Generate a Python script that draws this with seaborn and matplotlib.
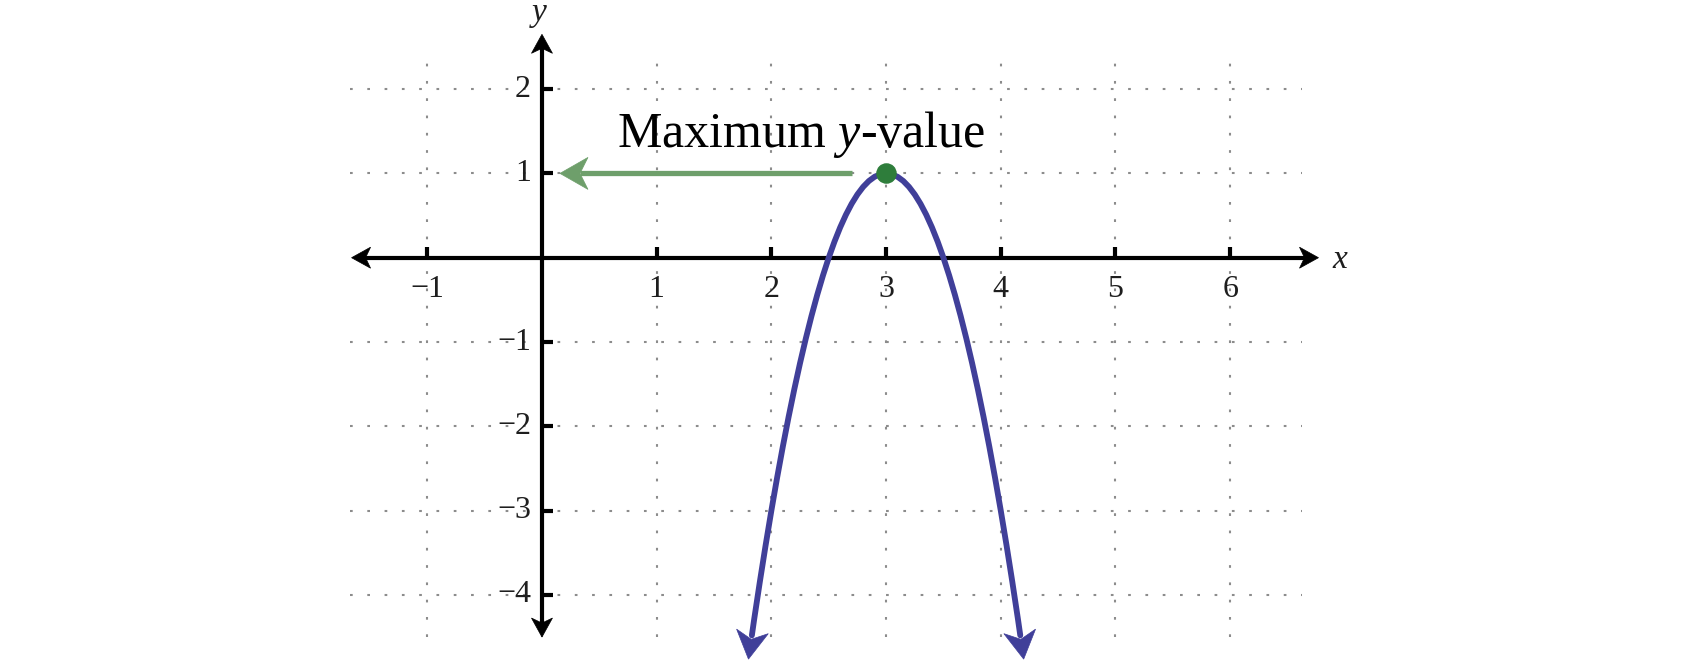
import numpy as np
import matplotlib
matplotlib.use("Agg")
import matplotlib.pyplot as plt
from matplotlib.patches import Polygon
import seaborn as sns

# ---- data ----
x_ticks = [-1, 1, 2, 3, 4, 5, 6]
x_tick_labels = ["\u22121", "1", "2", "3", "4", "5", "6"]
y_ticks = [-4, -3, -2, -1, 1, 2]
y_tick_labels = ["\u22124", "\u22123", "\u22122", "\u22121", "1", "2"]
x_grid = [-1, 0, 1, 2, 3, 4, 5, 6]
y_grid = [-4, -3, -2, -1, 1, 2]

curve_x = [1.83, 1.85, 1.90, 1.95, 2.00, 2.05, 2.10, 2.15, 2.20, 2.25, 2.30, 2.35,
           2.40, 2.45, 2.50, 2.55, 2.60, 2.65, 2.70, 2.75, 2.80, 2.85, 2.90, 2.95,
           3.00,
           3.05, 3.10, 3.15, 3.20, 3.25, 3.30, 3.35, 3.40, 3.45, 3.50, 3.55, 3.60,
           3.65, 3.70, 3.75, 3.80, 3.85, 3.90, 3.95, 4.00, 4.05, 4.10, 4.15, 4.17]
curve_y = [-4.48, -4.29, -3.84, -3.41, -3.00, -2.61, -2.24, -1.89, -1.56, -1.25, -0.96, -0.69,
           -0.44, -0.21, 0.00, 0.19, 0.36, 0.51, 0.64, 0.75, 0.84, 0.91, 0.96, 0.99,
           1.00,
           0.99, 0.96, 0.91, 0.84, 0.75, 0.64, 0.51, 0.36, 0.19, 0.00, -0.21, -0.44,
           -0.69, -0.96, -1.25, -1.56, -1.89, -2.24, -2.61, -3.00, -3.41, -3.84, -4.29, -4.48]
vertex_x = [3.0]
vertex_y = [1.0]
label_text = "Maximum $y$-value"
green_arrow_start = (2.70, 1.0)
green_arrow_tip = (0.157, 1.0)

# ---- style ----
sns.set_theme(style="white")
plt.rcParams["font.family"] = "serif"
plt.rcParams["font.serif"] = ["Liberation Serif", "DejaVu Serif"]
plt.rcParams["mathtext.fontset"] = "custom"
plt.rcParams["mathtext.rm"] = "Liberation Serif"
plt.rcParams["mathtext.it"] = "Liberation Serif:italic"

BLUE = "#403F99"
GREEN_ARROW = "#6E9F6B"
GREEN_DOT = "#2E7D3B"
GRID = "#8C8C8C"
TEXT = "#1E1E1E"

fig = plt.figure(figsize=(17, 6.62), dpi=100)
ax = fig.add_axes([0, 0, 1, 1])
ax.set_xlim(-4.725, 10.096)
ax.set_ylim(-4.796, 3.057)
ax.axis("off")
fig.patch.set_facecolor("white")

# grid
dot_style = (0, (1.3, 7.0))
for gx in x_grid:
    ax.plot([gx, gx], [-4.5, 2.46], color=GRID, lw=1.5, ls=dot_style, zorder=1)
for gy in y_grid:
    ax.plot([-1.67, 6.63], [gy, gy], color=GRID, lw=1.5, ls=dot_style, zorder=1)


def arrow_head(tip, prev, L, W, notch, color, z):
    """Stealth-style arrowhead, sizes in pixels, placed at data point tip."""
    t = ax.transData.transform(tip)
    p = ax.transData.transform(prev)
    d = (t - p) / np.linalg.norm(t - p)
    n = np.array([-d[1], d[0]])
    verts = [t,
             t - L * d + W / 2 * n,
             t - (L - notch) * d,
             t - L * d - W / 2 * n]
    verts = ax.transData.inverted().transform(np.array(verts))
    ax.add_patch(Polygon(verts, closed=True, facecolor=color, edgecolor=color,
                         lw=0.5, zorder=z))


def px_to_data_dx(px):
    return px * (ax.get_xlim()[1] - ax.get_xlim()[0]) / 1700


def px_to_data_dy(px):
    return px * (ax.get_ylim()[1] - ax.get_ylim()[0]) / 662


# axes lines with arrows
ax_lw = 3.0
xa_left, xa_right = -1.66, 6.77
ya_bot, ya_top = -4.5, 2.65
ax.plot([xa_left + px_to_data_dx(10), xa_right - px_to_data_dx(10)], [0, 0],
        color="black", lw=ax_lw, solid_capstyle="butt", zorder=3)
ax.plot([0, 0], [ya_bot + px_to_data_dy(10), ya_top - px_to_data_dy(10)],
        color="black", lw=ax_lw, solid_capstyle="butt", zorder=3)
arrow_head((xa_right, 0), (0, 0), 19, 21, 5, "black", 4)
arrow_head((xa_left, 0), (0, 0), 19, 21, 5, "black", 4)
arrow_head((0, ya_top), (0, 0), 19, 21, 5, "black", 4)
arrow_head((0, ya_bot), (0, 0), 19, 21, 5, "black", 4)

# tick marks
tx_len = px_to_data_dy(11)
ty_len = px_to_data_dx(11)
for tx, lab in zip(x_ticks, x_tick_labels):
    ax.plot([tx, tx], [0, tx_len], color="black", lw=ax_lw, solid_capstyle="butt", zorder=3)
    ax.text(tx, -px_to_data_dy(17), lab, ha="center", va="top", fontsize=23,
            color=TEXT, zorder=5)
for ty, lab in zip(y_ticks, y_tick_labels):
    ax.plot([0, ty_len], [ty, ty], color="black", lw=ax_lw, solid_capstyle="butt", zorder=3)
    ax.text(-px_to_data_dx(11), ty, lab, ha="right", va="center", fontsize=23,
            color=TEXT, zorder=5)

# axis names
ax.text(6.96, -0.02, "x", fontsize=24, fontstyle="italic", ha="center", va="center",
        color=TEXT)
ax.text(-0.02, 2.90, "y", fontsize=24, fontstyle="italic", ha="center", va="center",
        color=TEXT)

# parabola
sns.lineplot(x=curve_x, y=curve_y, sort=False, color=BLUE, lw=4.2, ax=ax,
             zorder=6, estimator=None)
# arrowheads at the ends (continue along the last segments)
for (x0, y0), (x1, y1) in [((curve_x[1], curve_y[1]), (curve_x[0], curve_y[0])),
                           ((curve_x[-2], curve_y[-2]), (curve_x[-1], curve_y[-1]))]:
    p0 = ax.transData.transform((x0, y0))
    p1 = ax.transData.transform((x1, y1))
    d = (p1 - p0) / np.linalg.norm(p1 - p0)
    tip_px = p1 + 24 * d
    tip = ax.transData.inverted().transform(tip_px)
    arrow_head(tuple(tip), (x1, y1), 28, 32, 8, BLUE, 7)

# green arrow
gx0, gy0 = green_arrow_start
gx1, gy1 = green_arrow_tip
ax.plot([gx0, gx1 + px_to_data_dx(20)], [gy0, gy1], color=GREEN_ARROW, lw=3.8,
        solid_capstyle="butt", zorder=6)
arrow_head((gx1, gy1), (gx0, gy0), 28, 32, 8, GREEN_ARROW, 7)

# vertex dot
sns.scatterplot(x=vertex_x, y=vertex_y, s=19 ** 2 * (72 / 100) ** 2, color=GREEN_DOT,
                edgecolor=GREEN_DOT, ax=ax, zorder=8, legend=False)

# label
ax.text(0.654, 1.313, label_text, fontsize=36, ha="left", va="baseline",
        color="black", zorder=9)

fig.savefig("out.png", dpi=100, facecolor="white")
